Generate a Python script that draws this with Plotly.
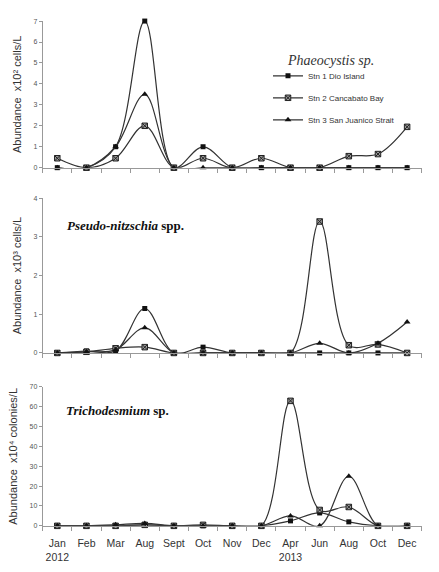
import plotly.graph_objects as go

months = ["Jan", "Feb", "Mar", "Aug", "Sept", "Oct", "Nov", "Dec", "Apr", "Jun", "Aug", "Oct", "Dec"]
tick_labels = ["Jan<br>2012", "Feb", "Mar", "Aug", "Sept", "Oct", "Nov", "Dec",
               "Apr<br>2013", "Jun", "Aug", "Oct", "Dec"]
stations = ["Stn 1 Dio Island", "Stn 2 Cancabato Bay", "Stn 3 San Juanico Strait"]

# Phaeocystis sp. (x10^2 cells/L)
phaeo_stn1 = [0, 0, 1.0, 7.0, 0, 1.0, 0, 0, 0, 0, 0, 0, 0]
phaeo_stn2 = [0.45, 0, 0.45, 2.0, 0, 0.45, 0, 0.45, 0, 0, 0.55, 0.65, 1.95]
phaeo_stn3 = [0, 0, 1.0, 3.5, 0, 0, 0, 0, 0, 0, 0, 0, 0]

# Pseudo-nitzschia spp. (x10^3 cells/L)
pseudo_stn1 = [0, 0.05, 0.05, 1.15, 0, 0.15, 0, 0, 0, 0, 0, 0, 0]
pseudo_stn2 = [0, 0.03, 0.12, 0.15, 0, 0, 0, 0, 0, 3.4, 0.2, 0.22, 0]
pseudo_stn3 = [0, 0.03, 0.08, 0.65, 0, 0, 0, 0, 0, 0.25, 0, 0.25, 0.8]

# Trichodesmium sp. (x10^4 colonies/L)
tricho_stn1 = [0, 0, 0, 0.5, 0, 0, 0, 0, 2.5, 6.5, 2, 0, 0]
tricho_stn2 = [0, 0, 0, 0.5, 0, 0.5, 0, 0, 63, 8, 9.5, 0, 0]
tricho_stn3 = [0, 0, 0.5, 1.2, 0, 0, 0, 0, 5, 0, 25, 0, 0]

x = list(range(len(months)))
markers = [
    dict(symbol="square", size=5, color="#111"),
    dict(symbol="square-x", size=5.5, color="#999", line=dict(color="#222", width=1)),
    dict(symbol="triangle-up", size=6, color="#111"),
]

panels = [
    ([phaeo_stn1, phaeo_stn2, phaeo_stn3], 7, "Abundance  x10² cells/L"),
    ([pseudo_stn1, pseudo_stn2, pseudo_stn3], 4, "Abundance  x10³ cells/L"),
    ([tricho_stn1, tricho_stn2, tricho_stn3], 70, "Abundance  x10⁴ colonies/L"),
]
domains = [[0.7103, 0.9698], [0.3824, 0.6561], [0.0764, 0.3222]]

fig = go.Figure()
for p, (series, ymax, ytitle) in enumerate(panels):
    n = "" if p == 0 else str(p + 1)
    for s, vals in enumerate(series):
        fig.add_trace(go.Scatter(
            x=x, y=vals, mode="lines+markers", name=stations[s],
            line=dict(color="#333", width=1.2, shape="spline"),
            marker=markers[s], showlegend=(p == 0), legendgroup=stations[s],
            xaxis="x" + n, yaxis="y" + n, cliponaxis=False,
        ))
    fig.layout["xaxis" + n] = dict(
        domain=[0.0973, 0.9606], anchor="y" + n, range=[-0.5, 12.5],
        tickvals=x, ticktext=tick_labels, showticklabels=(p == 2),
        ticks="", showline=True, linecolor="#999", linewidth=1,
        showgrid=False, zeroline=False, ticklabelstandoff=8,
        tickfont=dict(family="Liberation Sans", size=10.5, color="#333"),
        minor=dict(tickvals=[i - 0.5 for i in range(14)], ticks="outside",
                   ticklen=4, tickcolor="#999"),
    )
    fig.layout["yaxis" + n] = dict(
        domain=domains[p], anchor="x" + n, range=[0, ymax],
        dtick=ymax / 7 if p != 1 else 1, showline=True, linecolor="#999",
        linewidth=1, ticks="outside", ticklen=3, tickcolor="#999",
        showgrid=False, zeroline=False,
        tickfont=dict(family="Liberation Sans", size=7, color="#555"),
        title=dict(text=ytitle, standoff=9,
                   font=dict(family="Liberation Sans", size=11, color="#333")),
    )

fig.add_annotation(x=285 / 439, y=1 - 57 / 572, xref="paper", yref="paper",
                   text="<i>Phaeocystis sp.</i>", showarrow=False,
                   xanchor="left", yanchor="middle",
                   font=dict(family="Liberation Serif", size=14, color="#333"))
fig.add_annotation(x=65 / 439, y=1 - 224 / 572, xref="paper", yref="paper",
                   text="<b><i>Pseudo-nitzschia</i> spp.</b>", showarrow=False,
                   xanchor="left", yanchor="middle",
                   font=dict(family="Liberation Serif", size=13, color="#111"))
fig.add_annotation(x=64 / 439, y=1 - 412 / 572, xref="paper", yref="paper",
                   text="<b><i>Trichodesmium</i> sp.</b>", showarrow=False,
                   xanchor="left", yanchor="middle",
                   font=dict(family="Liberation Serif", size=13, color="#111"))

fig.update_layout(
    width=439, height=572, margin=dict(l=0, r=0, t=0, b=0),
    paper_bgcolor="white", plot_bgcolor="white",
    legend=dict(
        x=268 / 439, y=1 - 58 / 572, xanchor="left", yanchor="top",
        font=dict(family="Liberation Sans", size=8, color="#333"),
        itemwidth=30, tracegroupgap=3, bgcolor="rgba(0,0,0,0)",
    ),
)

fig.write_html("out.html", config={"displayModeBar": False},
               post_script="document.body.style.margin='0';")
